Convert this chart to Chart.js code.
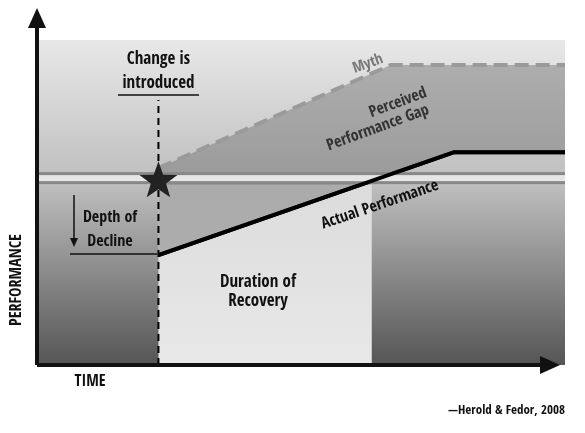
<!DOCTYPE html><html><head><style>body{margin:0;background:#fff}#w{width:585px;height:433px}</style>
<script src="https://cdn.jsdelivr.net/npm/chart.js@4/dist/chart.umd.min.js"></script></head><body><div id="w"><canvas id="c"></canvas></div>
<script>
const changeX=23;
const mythX=[23,67,100], mythY=[60.6,92.3,92.3];
const actualX=[23,79,100], actualY=[33.8,65.5,65.5];
const baselineY=57.5;
const recoveryX=[23,63.4], recoveryTop=55.4;
const pts=(xs,ys)=>xs.map((x,i)=>({x,y:ys[i]}));
const F='"Open Sans Condensed","Liberation Sans Narrow","DejaVu Sans Condensed",sans-serif';
const bg={id:'bg',beforeDatasetsDraw(ch){const {ctx,chartArea:a,scales:{x,y}}=ch;ctx.save();
 let g=ctx.createLinearGradient(0,a.top,0,a.bottom);g.addColorStop(0,'#e8e8e8');g.addColorStop(0.45,'#bdbdbd');g.addColorStop(1,'#555');
 ctx.fillStyle=g;ctx.fillRect(a.left,a.top,a.right-a.left,a.bottom-a.top);
 let g2=ctx.createLinearGradient(0,y.getPixelForValue(recoveryTop),0,a.bottom);g2.addColorStop(0,'#dcdcdc');g2.addColorStop(1,'#e8e8e8');
 ctx.fillStyle=g2;const x0=x.getPixelForValue(recoveryX[0]),x1=x.getPixelForValue(recoveryX[1]);ctx.fillRect(x0,y.getPixelForValue(recoveryTop),x1-x0,a.bottom-y.getPixelForValue(recoveryTop));
 ctx.restore();},
 afterDatasetsDraw(ch){const {ctx,chartArea:a,scales:{x,y}}=ch;ctx.save();
 // baseline
 const by=y.getPixelForValue(baselineY);ctx.fillStyle='#888';ctx.fillRect(a.left,by-6,a.right-a.left,12);ctx.fillStyle='#e6e6e6';ctx.fillRect(a.left,by-3,a.right-a.left,6);
 // actual line redraw over baseline
 ctx.strokeStyle='#000';ctx.lineWidth=4;ctx.beginPath();pts(actualX,actualY).forEach((p,i)=>{const px=x.getPixelForValue(p.x),py=y.getPixelForValue(p.y);i?ctx.lineTo(px,py):ctx.moveTo(px,py)});ctx.stroke();
 // dashed vertical
 const cx=x.getPixelForValue(changeX);ctx.setLineDash([7,5]);ctx.lineWidth=2;ctx.beginPath();ctx.moveTo(cx,a.bottom);ctx.lineTo(cx,100);ctx.stroke();ctx.setLineDash([]);
 // star
 ctx.fillStyle='#222';ctx.beginPath();for(let i=0;i<10;i++){const r=i%2?8:20,t=-Math.PI/2+i*Math.PI/5;ctx.lineTo(cx+r*Math.cos(t),by+3+r*Math.sin(t));}ctx.closePath();ctx.fill();
 // axes
 ctx.lineWidth=4;ctx.strokeStyle='#111';ctx.fillStyle='#111';ctx.beginPath();ctx.moveTo(37,365);ctx.lineTo(37,22);ctx.moveTo(37,365);ctx.lineTo(545,365);ctx.stroke();
 ctx.beginPath();ctx.moveTo(37,8);ctx.lineTo(28,28);ctx.lineTo(46,28);ctx.fill();ctx.beginPath();ctx.moveTo(560,365);ctx.lineTo(540,356);ctx.lineTo(540,374);ctx.fill();
 // texts
 const T=(s,px,py,sz,col,rot,al)=>{ctx.save();ctx.translate(px,py);ctx.rotate(rot||0);ctx.font=sz+'px '+F;ctx.fillStyle=col||'#111';ctx.textAlign=al||'center';ctx.textBaseline='middle';ctx.fillText(s,0,0);ctx.restore();};
 T('Change is',cx,60,17);T('introduced',cx,84,17);ctx.lineWidth=1.5;ctx.beginPath();ctx.moveTo(118,95);ctx.lineTo(199,95);ctx.stroke();
 T('Myth',368,64,15,'#777',-0.35);
 T('Perceived',398,103,16,'#333',-0.35);T('Performance Gap',378,128,16,'#333',-0.35);
 T('Actual Performance',380,205,16,'#111',-0.33);
 T('Depth of',110,218,16);T('Decline',110,242,16);ctx.beginPath();ctx.moveTo(70,254);ctx.lineTo(157,254);ctx.stroke();
 ctx.beginPath();ctx.moveTo(74,195);ctx.lineTo(74,240);ctx.stroke();ctx.beginPath();ctx.moveTo(74,247);ctx.lineTo(70,238);ctx.lineTo(78,238);ctx.fill();
 T('Duration of',258,283,17);T('Recovery',258,302,17);
 T('PERFORMANCE',17,280,16,'#111',-Math.PI/2);ctx.font='bold 16px '+F;
 T('TIME',90,382,16);T('—Herold & Fedor, 2008',565,411,13,'#111',0,'right');
 ctx.restore();}};
new Chart(document.getElementById('c'),{type:'line',data:{datasets:[
 {data:pts(mythX,mythY),borderColor:'#9a9a9a',borderWidth:4,borderDash:[14,7],pointRadius:0,fill:'+1',backgroundColor:'rgba(110,110,110,0.45)'},
 {data:pts(actualX,actualY),borderColor:'#000',borderWidth:4,pointRadius:0,fill:false}
]},plugins:[bg],options:{responsive:true,maintainAspectRatio:false,animation:false,layout:{padding:{left:37,right:20,top:40,bottom:68}},
 plugins:{legend:{display:false},tooltip:{enabled:false}},
 scales:{x:{type:'linear',min:0,max:100,display:false},y:{min:0,max:100,display:false}}}});
</script></body></html>
